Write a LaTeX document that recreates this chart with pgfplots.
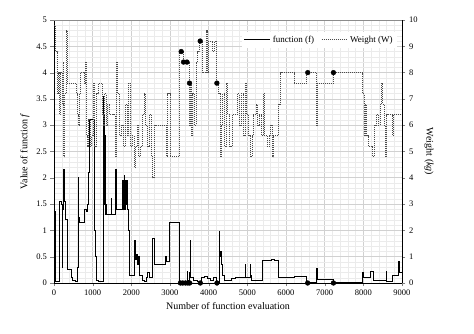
\documentclass[border=0pt]{standalone}
\usepackage{fontspec}
\setmainfont{Liberation Serif}
\usepackage{pgfplots}
\usepackage{pgfplotstable}
\pgfplotsset{compat=1.18}
\definecolor{wgray}{HTML}{4C4C4C}
\pgfplotstableread{
x f
0 1.35
40 0.02
130 1.55
190 1.5
207 0.3
220 1.4
258 2.15
276 1.55
290 1.2
362 0.25
450 0.1
480 0.05
560 0.03
610 0.3
625 2.0
645 1.25
670 1.15
800 1.4
835 1.35
860 1.5
905 2.1
925 3.1
1040 1.6
1055 1.0
1080 0.5
1110 0.05
1155 0.02
1270 2.2
1280 3.55
1288 1.5
1296 3.2
1304 1.75
1312 2.8
1320 1.3
1340 1.5
1360 1.3
1480 1.6
1495 1.3
1594 2.15
1610 1.4
1780 1.95
1795 1.4
1810 1.8
1822 2.05
1835 1.4
1850 1.95
1865 1.5
1880 1.95
1895 1.5
1910 1.4
1935 1.0
1955 0.15
2094 0.8
2110 0.45
2130 0.55
2150 0.35
2180 0.5
2200 0.3
2215 0.15
2280 0.05
2340 0.02
2385 0.1
2430 0.2
2470 0.1
2540 0.85
2600 0.35
2885 0.5
2900 0.4
2990 1.15
3250 0.0
3440 0.22
3455 0.05
3510 0.2
3525 0.8
3540 0.1
3600 0.05
3700 0.03
3760 0.0
3810 0.1
3880 0.12
3960 0.08
4050 0.05
4130 0.1
4190 0.0
4270 0.98
4285 0.5
4300 0.6
4330 0.35
4360 0.15
4400 0.05
4600 0.08
4700 0.1
4790 0.1
4950 0.35
4965 0.1
5070 0.35
5085 0.15
5120 0.05
5400 0.42
5620 0.45
5700 0.42
5806 0.1
6220 0.12
6540 0.0
6780 0.27
6810 0.06
7227 0.0
7985 0.2
8000 0.1
8175 0.22
8260 0.05
8588 0.22
8610 0.03
8760 0.15
8920 0.4
8940 0.2
9000 0.2
}\fdata
\pgfplotstableread{
x w
0 9.8
40 8.8
103 7.2
129 8.0
155 6.4
181 8.0
207 6.8
233 8.4
258 4.8
284 7.2
319 9.6
345 7.6
577 7.2
603 6.4
629 6.0
655 7.2
680 8.0
792 7.6
818 8.4
844 5.6
870 5.2
904 6.2
939 5.2
973 5.6
1025 7.6
1059 5.2
1094 7.2
1146 7.6
1249 6.4
1283 6.0
1318 7.2
1352 6.0
1395 6.8
1438 6.4
1525 6.4
1585 4.8
1611 8.4
1645 7.2
1697 5.6
1748 6.0
1800 5.2
1852 6.8
1895 5.6
1938 7.6
1972 5.2
2024 5.6
2076 4.4
2110 5.2
2162 6.0
2196 4.8
2239 5.2
2282 6.4
2334 7.2
2369 6.0
2420 5.2
2472 6.4
2524 4.8
2558 4.0
2601 6.0
2903 4.8
2937 7.2
3006 4.8
3256 8.8
3340 8.4
3500 7.6
3515 6.0
3531 7.6
3557 5.6
3592 7.2
3635 6.0
3678 8.4
3721 8.8
3764 9.2
3833 8.0
3936 9.6
3979 8.0
4005 9.2
4108 8.8
4151 9.2
4200 7.6
4263 7.2
4298 4.8
4324 6.0
4367 7.2
4410 5.2
4453 7.6
4496 6.4
4540 5.2
4625 6.4
4755 7.2
4798 6.0
4841 7.2
4901 5.6
4953 7.6
4987 6.4
5039 5.6
5073 4.8
5125 5.6
5159 6.4
5228 6.8
5271 6.0
5314 6.4
5366 5.6
5418 7.2
5452 5.6
5513 5.2
5573 5.6
5607 6.0
5642 4.8
5676 5.6
5814 6.8
5866 8.0
6219 7.6
6538 8.0
6796 6.0
6813 7.6
7227 8.0
7985 7.2
8020 5.6
8054 6.8
8089 5.6
8141 5.2
8227 4.8
8279 6.0
8330 6.4
8382 6.0
8434 6.8
8459 7.6
8503 6.8
8546 6.0
8572 4.8
8606 6.4
8761 5.6
8787 6.4
9000 6.4
}\wdata
\begin{document}
\begin{tikzpicture}
\path[use as bounding box] (-54pt,-51pt) rectangle (420pt,283pt);
\begin{axis}[
  at={(0,0)}, anchor=south west,
  scale only axis, width=348pt, height=263pt,
  xmin=0, xmax=9000, ymin=0, ymax=5,
  axis x line*=bottom, axis y line*=left,
  xtick={0,1000,...,9000}, ytick={0,0.5,...,5},
  minor x tick num=4, minor y tick num=4,
  grid=both,
  major grid style={draw=black!18, line width=0.6pt},
  minor grid style={draw=black!8, line width=0.4pt},
  tick align=outside, major tick length=3.5pt, minor tick length=0pt,
  axis line style={line width=0.8pt},
  /pgf/number format/assume math mode=true,
  /pgf/number format/1000 sep={},
  tick label style={font=\fontsize{8.5}{10}\selectfont},
  label style={font=\fontsize{10}{12}\selectfont},
  xlabel={Number of function evaluation},
  ylabel={Value of function \textit{f}},
  clip=false,
]
\draw[black!45, line width=0.8pt] (rel axis cs:0,1) -- (rel axis cs:1,1);
\addplot[const plot, black, line width=1pt] table[x=x, y=f] {\fdata};
\addplot[only marks, mark=*, mark size=2.4pt, black] coordinates {
(3270,0) (3330,0) (3400,0) (3460,0) (3510,0) (3785,0) (4215,0) (6560,0) (7227,0)};
\end{axis}
\begin{axis}[
  at={(0,0)}, anchor=south west,
  scale only axis, width=348pt, height=263pt,
  xmin=0, xmax=9000, ymin=0, ymax=10,
  axis x line=none, axis y line*=right,
  ytick={0,1,...,10},
  tick align=outside, major tick length=3.5pt,
  axis line style={line width=0.8pt},
  /pgf/number format/assume math mode=true,
  tick label style={font=\fontsize{8.5}{10}\selectfont},
  label style={font=\fontsize{10}{12}\selectfont},
  ylabel={Weight (\textit{kg})},
  ylabel style={rotate=180},
  legend columns=2,
  legend style={at={(0.985,0.955)}, anchor=north east, draw=none, fill=white,
    font=\fontsize{9}{11}\selectfont, inner sep=2pt,
    /tikz/every even column/.append style={column sep=5pt}},
  legend image code/.code={\draw[#1] (0pt,0pt) -- (26pt,0pt);},
]
\addlegendimage{black, line width=1pt}
\addlegendentry{function (f)}
\addplot[const plot, wgray, densely dotted, line width=1pt] table[x=x, y=w] {\wdata};
\addlegendentry{Weight (W)}
\addplot[only marks, mark=*, mark size=2.4pt, black, forget plot] coordinates {
(3290,8.8) (3350,8.4) (3440,8.4) (3505,7.6) (3781,9.2) (4212,7.6) (6563,8.0) (7227,8.0)};
\end{axis}
\end{tikzpicture}
\end{document}
